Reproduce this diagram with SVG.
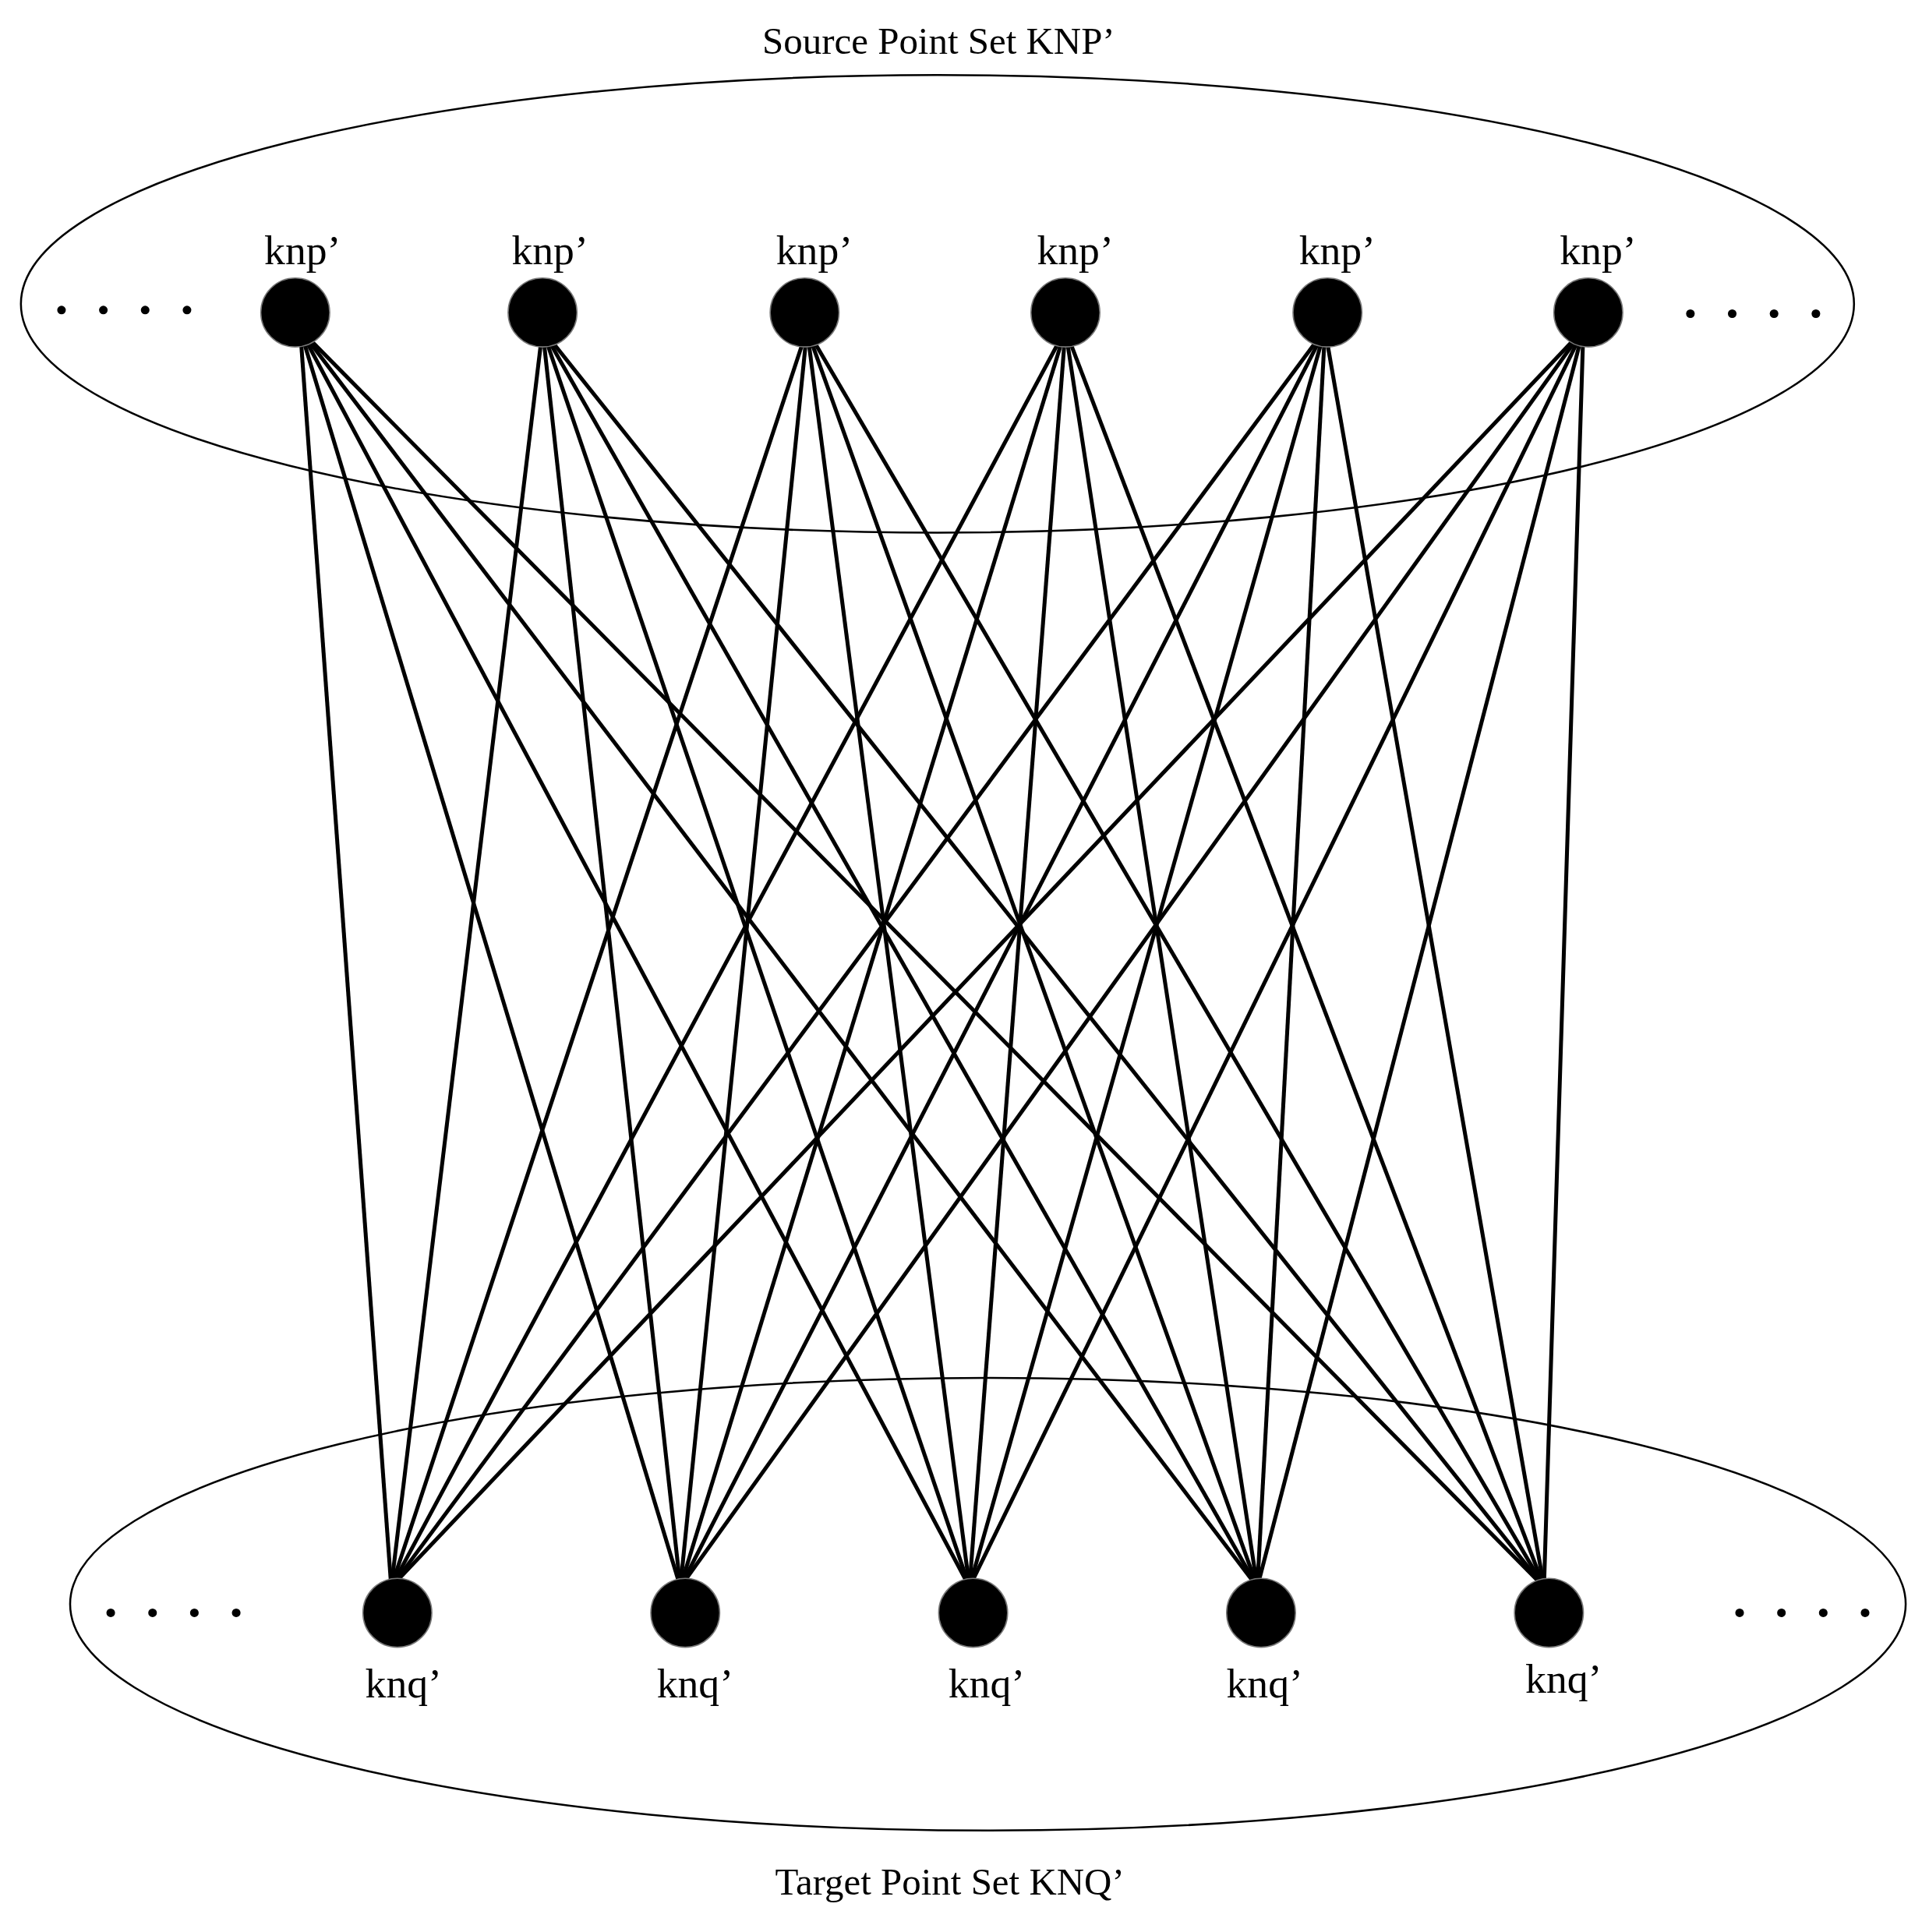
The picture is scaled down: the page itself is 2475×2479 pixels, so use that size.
<svg xmlns="http://www.w3.org/2000/svg" width="2475" height="2479" viewBox="0 0 2475 2479">
<style>
.t{font-family:"Liberation Serif",serif;fill:#000}
.lab{font-size:34px;text-anchor:middle}
.tit{font-size:31px;text-anchor:middle}
.e{fill:none;stroke:#000;stroke-width:1.6}
.n{fill:#000;stroke:#777;stroke-width:1}
.d{fill:#000}
#edges line{stroke:#000;stroke-width:3.2}
</style>
<rect width="2475" height="2479" fill="#fff"/>
<g transform="scale(1.5785)">
<ellipse class="e" cx="762" cy="247" rx="745" ry="186"/>
<ellipse class="e" cx="803" cy="1304" rx="746" ry="184"/>
<text class="t tit" x="763" y="44">Source Point  Set KNP’</text>
<text class="t tit" x="772" y="1540">Target Point Set KNQ’</text>
<g class="d">
<circle cx="50" cy="252" r="3.5"/><circle cx="84" cy="252" r="3.5"/><circle cx="118" cy="252" r="3.5"/><circle cx="152" cy="252" r="3.5"/>
<circle cx="1374" cy="255" r="3.5"/><circle cx="1408" cy="255" r="3.5"/><circle cx="1442" cy="255" r="3.5"/><circle cx="1476" cy="255" r="3.5"/>
<circle cx="90" cy="1311" r="3.5"/><circle cx="124" cy="1311" r="3.5"/><circle cx="158" cy="1311" r="3.5"/><circle cx="192" cy="1311" r="3.5"/>
<circle cx="1414" cy="1311" r="3.5"/><circle cx="1448" cy="1311" r="3.5"/><circle cx="1482" cy="1311" r="3.5"/><circle cx="1516" cy="1311" r="3.5"/>
</g>
<g id="edges">
<line x1="244" y1="268" x2="318" y2="1290"/><line x1="244" y1="268" x2="553" y2="1290"/><line x1="244" y1="268" x2="788" y2="1290"/><line x1="244" y1="268" x2="1022" y2="1290"/><line x1="244" y1="268" x2="1255" y2="1290"/>
<line x1="441" y1="268" x2="318" y2="1290"/><line x1="441" y1="268" x2="553" y2="1290"/><line x1="441" y1="268" x2="788" y2="1290"/><line x1="441" y1="268" x2="1022" y2="1290"/><line x1="441" y1="268" x2="1255" y2="1290"/>
<line x1="656" y1="268" x2="318" y2="1290"/><line x1="656" y1="268" x2="553" y2="1290"/><line x1="656" y1="268" x2="788" y2="1290"/><line x1="656" y1="268" x2="1022" y2="1290"/><line x1="656" y1="268" x2="1255" y2="1290"/>
<line x1="866" y1="268" x2="318" y2="1290"/><line x1="866" y1="268" x2="553" y2="1290"/><line x1="866" y1="268" x2="788" y2="1290"/><line x1="866" y1="268" x2="1022" y2="1290"/><line x1="866" y1="268" x2="1255" y2="1290"/>
<line x1="1077" y1="268" x2="318" y2="1290"/><line x1="1077" y1="268" x2="553" y2="1290"/><line x1="1077" y1="268" x2="788" y2="1290"/><line x1="1077" y1="268" x2="1022" y2="1290"/><line x1="1077" y1="268" x2="1255" y2="1290"/>
<line x1="1287" y1="268" x2="318" y2="1290"/><line x1="1287" y1="268" x2="553" y2="1290"/><line x1="1287" y1="268" x2="788" y2="1290"/><line x1="1287" y1="268" x2="1022" y2="1290"/><line x1="1287" y1="268" x2="1255" y2="1290"/>
</g>
<g id="p1"><circle class="n" cx="240" cy="254" r="28"/><text class="t lab" x="246" y="215">knp’</text></g>
<g id="p2"><circle class="n" cx="441" cy="254" r="28"/><text class="t lab" x="447" y="215">knp’</text></g>
<g id="p3"><circle class="n" cx="654" cy="254" r="28"/><text class="t lab" x="662" y="215">knp’</text></g>
<g id="p4"><circle class="n" cx="866" cy="254" r="28"/><text class="t lab" x="874" y="215">knp’</text></g>
<g id="p5"><circle class="n" cx="1079" cy="254" r="28"/><text class="t lab" x="1087" y="215">knp’</text></g>
<g id="p6"><circle class="n" cx="1291" cy="254" r="28"/><text class="t lab" x="1299" y="215">knp’</text></g>
<g id="q1"><circle class="n" cx="323" cy="1311" r="28"/><text class="t lab" x="328" y="1380">knq’</text></g>
<g id="q2"><circle class="n" cx="557" cy="1311" r="28"/><text class="t lab" x="565" y="1380">knq’</text></g>
<g id="q3"><circle class="n" cx="791" cy="1311" r="28"/><text class="t lab" x="802" y="1380">knq’</text></g>
<g id="q4"><circle class="n" cx="1025" cy="1311" r="28"/><text class="t lab" x="1028" y="1380">knq’</text></g>
<g id="q5"><circle class="n" cx="1259" cy="1311" r="28"/><text class="t lab" x="1271" y="1376">knq’</text></g>
</g>
</svg>
